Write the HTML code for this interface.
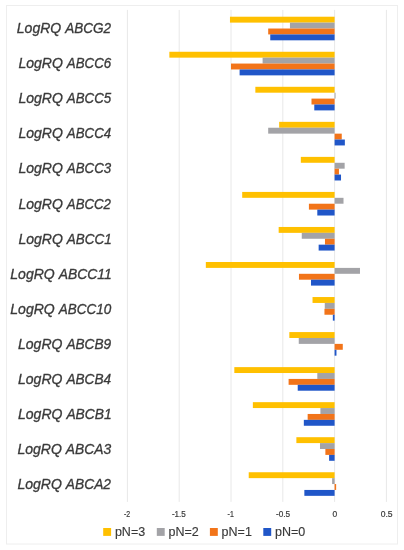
<!DOCTYPE html>
<html><head><meta charset="utf-8"><title>LogRQ chart</title>
<style>
html,body{margin:0;padding:0;background:#fff;}
body{width:404px;height:550px;overflow:hidden;}
svg{display:block;}
text{font-family:"Liberation Sans",sans-serif;}
.cat{font-style:italic;font-size:15.4px;fill:#383838;stroke:#404040;stroke-width:0.35px;}
.tick{font-size:8.4px;fill:#383838;stroke:#404040;stroke-width:0.2px;}
.leg{font-size:12.6px;fill:#383838;stroke:#404040;stroke-width:0.15px;}
</style></head><body>
<svg width="404" height="550" viewBox="0 0 404 550">
<rect x="0" y="0" width="404" height="550" fill="#fff"/>
<rect x="6.5" y="5.5" width="391" height="538.5" fill="#fff" stroke="#EEEEEE" stroke-width="1"/>
<line x1="127.40" y1="9.90" x2="127.40" y2="501.90" stroke="#E8E8E8" stroke-width="1"/>
<line x1="179.20" y1="9.90" x2="179.20" y2="501.90" stroke="#E8E8E8" stroke-width="1"/>
<line x1="231.00" y1="9.90" x2="231.00" y2="501.90" stroke="#E8E8E8" stroke-width="1"/>
<line x1="282.80" y1="9.90" x2="282.80" y2="501.90" stroke="#E8E8E8" stroke-width="1"/>
<line x1="334.60" y1="9.90" x2="334.60" y2="501.90" stroke="#E8E8E8" stroke-width="1"/>
<line x1="386.40" y1="9.90" x2="386.40" y2="501.90" stroke="#E8E8E8" stroke-width="1"/>
<rect x="229.96" y="16.72" width="104.64" height="5.90" fill="#FFC000"/>
<rect x="289.95" y="22.62" width="44.65" height="5.90" fill="#A3A3A7"/>
<rect x="268.19" y="28.52" width="66.41" height="5.90" fill="#F27419"/>
<rect x="270.26" y="34.42" width="64.34" height="5.90" fill="#2056C8"/>
<rect x="169.36" y="51.76" width="165.24" height="5.90" fill="#FFC000"/>
<rect x="262.60" y="57.66" width="72.00" height="5.90" fill="#A3A3A7"/>
<rect x="231.00" y="63.56" width="103.60" height="5.90" fill="#F27419"/>
<rect x="239.60" y="69.46" width="95.00" height="5.90" fill="#2056C8"/>
<rect x="255.35" y="86.80" width="79.25" height="5.90" fill="#FFC000"/>
<rect x="334.60" y="92.70" width="0.93" height="5.90" fill="#A3A3A7"/>
<rect x="311.50" y="98.60" width="23.10" height="5.90" fill="#F27419"/>
<rect x="314.29" y="104.50" width="20.31" height="5.90" fill="#2056C8"/>
<rect x="279.17" y="121.84" width="55.43" height="5.90" fill="#FFC000"/>
<rect x="268.19" y="127.74" width="66.41" height="5.90" fill="#A3A3A7"/>
<rect x="334.60" y="133.64" width="7.15" height="5.90" fill="#F27419"/>
<rect x="334.60" y="139.54" width="10.26" height="5.90" fill="#2056C8"/>
<rect x="300.83" y="156.88" width="33.77" height="5.90" fill="#FFC000"/>
<rect x="334.60" y="162.78" width="10.05" height="5.90" fill="#A3A3A7"/>
<rect x="334.60" y="168.68" width="4.35" height="5.90" fill="#F27419"/>
<rect x="334.60" y="174.58" width="6.42" height="5.90" fill="#2056C8"/>
<rect x="242.19" y="191.92" width="92.41" height="5.90" fill="#FFC000"/>
<rect x="334.60" y="197.82" width="8.91" height="5.90" fill="#A3A3A7"/>
<rect x="308.91" y="203.72" width="25.69" height="5.90" fill="#F27419"/>
<rect x="317.30" y="209.62" width="17.30" height="5.90" fill="#2056C8"/>
<rect x="278.66" y="226.96" width="55.94" height="5.90" fill="#FFC000"/>
<rect x="301.76" y="232.86" width="32.84" height="5.90" fill="#A3A3A7"/>
<rect x="324.97" y="238.76" width="9.63" height="5.90" fill="#F27419"/>
<rect x="318.65" y="244.66" width="15.95" height="5.90" fill="#2056C8"/>
<rect x="205.83" y="262.00" width="128.77" height="5.90" fill="#FFC000"/>
<rect x="334.60" y="267.90" width="25.38" height="5.90" fill="#A3A3A7"/>
<rect x="298.96" y="273.80" width="35.64" height="5.90" fill="#F27419"/>
<rect x="310.98" y="279.70" width="23.62" height="5.90" fill="#2056C8"/>
<rect x="312.53" y="297.04" width="22.07" height="5.90" fill="#FFC000"/>
<rect x="324.76" y="302.94" width="9.84" height="5.90" fill="#A3A3A7"/>
<rect x="324.45" y="308.84" width="10.15" height="5.90" fill="#F27419"/>
<rect x="332.84" y="314.74" width="1.76" height="5.90" fill="#2056C8"/>
<rect x="289.33" y="332.08" width="45.27" height="5.90" fill="#FFC000"/>
<rect x="298.75" y="337.98" width="35.85" height="5.90" fill="#A3A3A7"/>
<rect x="334.60" y="343.88" width="8.18" height="5.90" fill="#F27419"/>
<rect x="334.60" y="349.78" width="1.86" height="5.90" fill="#2056C8"/>
<rect x="234.32" y="367.12" width="100.28" height="5.90" fill="#FFC000"/>
<rect x="317.30" y="373.02" width="17.30" height="5.90" fill="#A3A3A7"/>
<rect x="288.60" y="378.92" width="46.00" height="5.90" fill="#F27419"/>
<rect x="297.72" y="384.82" width="36.88" height="5.90" fill="#2056C8"/>
<rect x="252.86" y="402.16" width="81.74" height="5.90" fill="#FFC000"/>
<rect x="320.41" y="408.06" width="14.19" height="5.90" fill="#A3A3A7"/>
<rect x="307.66" y="413.96" width="26.94" height="5.90" fill="#F27419"/>
<rect x="303.83" y="419.86" width="30.77" height="5.90" fill="#2056C8"/>
<rect x="296.37" y="437.20" width="38.23" height="5.90" fill="#FFC000"/>
<rect x="319.99" y="443.10" width="14.61" height="5.90" fill="#A3A3A7"/>
<rect x="325.38" y="449.00" width="9.22" height="5.90" fill="#F27419"/>
<rect x="329.11" y="454.90" width="5.49" height="5.90" fill="#2056C8"/>
<rect x="248.72" y="472.24" width="85.88" height="5.90" fill="#FFC000"/>
<rect x="332.11" y="478.14" width="2.49" height="5.90" fill="#A3A3A7"/>
<rect x="334.60" y="484.04" width="1.55" height="5.90" fill="#F27419"/>
<rect x="304.35" y="489.94" width="30.25" height="5.90" fill="#2056C8"/>
<text class="cat" y="33.20"><tspan x="16.80" textLength="44.5" lengthAdjust="spacingAndGlyphs">LogRQ</tspan> <tspan x="65.20" textLength="45.80" lengthAdjust="spacingAndGlyphs">ABCG2</tspan></text>
<text class="cat" y="68.27"><tspan x="18.40" textLength="44.5" lengthAdjust="spacingAndGlyphs">LogRQ</tspan> <tspan x="66.80" textLength="44.40" lengthAdjust="spacingAndGlyphs">ABCC6</tspan></text>
<text class="cat" y="103.34"><tspan x="18.40" textLength="44.5" lengthAdjust="spacingAndGlyphs">LogRQ</tspan> <tspan x="66.80" textLength="44.40" lengthAdjust="spacingAndGlyphs">ABCC5</tspan></text>
<text class="cat" y="138.41"><tspan x="18.40" textLength="44.5" lengthAdjust="spacingAndGlyphs">LogRQ</tspan> <tspan x="66.80" textLength="44.40" lengthAdjust="spacingAndGlyphs">ABCC4</tspan></text>
<text class="cat" y="173.48"><tspan x="18.40" textLength="44.5" lengthAdjust="spacingAndGlyphs">LogRQ</tspan> <tspan x="66.80" textLength="44.40" lengthAdjust="spacingAndGlyphs">ABCC3</tspan></text>
<text class="cat" y="208.55"><tspan x="18.40" textLength="44.5" lengthAdjust="spacingAndGlyphs">LogRQ</tspan> <tspan x="66.80" textLength="44.20" lengthAdjust="spacingAndGlyphs">ABCC2</tspan></text>
<text class="cat" y="243.62"><tspan x="18.40" textLength="44.5" lengthAdjust="spacingAndGlyphs">LogRQ</tspan> <tspan x="66.80" textLength="45.00" lengthAdjust="spacingAndGlyphs">ABCC1</tspan></text>
<text class="cat" y="278.69"><tspan x="10.30" textLength="44.5" lengthAdjust="spacingAndGlyphs">LogRQ</tspan> <tspan x="58.70" textLength="53.10" lengthAdjust="spacingAndGlyphs">ABCC11</tspan></text>
<text class="cat" y="313.76"><tspan x="10.30" textLength="44.5" lengthAdjust="spacingAndGlyphs">LogRQ</tspan> <tspan x="58.70" textLength="52.50" lengthAdjust="spacingAndGlyphs">ABCC10</tspan></text>
<text class="cat" y="348.83"><tspan x="18.00" textLength="44.5" lengthAdjust="spacingAndGlyphs">LogRQ</tspan> <tspan x="66.40" textLength="44.80" lengthAdjust="spacingAndGlyphs">ABCB9</tspan></text>
<text class="cat" y="383.90"><tspan x="18.00" textLength="44.5" lengthAdjust="spacingAndGlyphs">LogRQ</tspan> <tspan x="66.40" textLength="44.80" lengthAdjust="spacingAndGlyphs">ABCB4</tspan></text>
<text class="cat" y="418.97"><tspan x="18.00" textLength="44.5" lengthAdjust="spacingAndGlyphs">LogRQ</tspan> <tspan x="66.40" textLength="45.40" lengthAdjust="spacingAndGlyphs">ABCB1</tspan></text>
<text class="cat" y="454.04"><tspan x="17.40" textLength="44.5" lengthAdjust="spacingAndGlyphs">LogRQ</tspan> <tspan x="65.80" textLength="45.40" lengthAdjust="spacingAndGlyphs">ABCA3</tspan></text>
<text class="cat" y="489.11"><tspan x="17.40" textLength="44.5" lengthAdjust="spacingAndGlyphs">LogRQ</tspan> <tspan x="65.80" textLength="45.20" lengthAdjust="spacingAndGlyphs">ABCA2</tspan></text>
<text class="tick" x="124.00" y="516.80" textLength="6.20" lengthAdjust="spacingAndGlyphs">-2</text>
<text class="tick" x="171.95" y="516.80" textLength="13.90" lengthAdjust="spacingAndGlyphs">-1.5</text>
<text class="tick" x="227.60" y="516.80" textLength="6.20" lengthAdjust="spacingAndGlyphs">-1</text>
<text class="tick" x="275.90" y="516.80" textLength="14.20" lengthAdjust="spacingAndGlyphs">-0.5</text>
<text class="tick" x="332.45" y="516.80" textLength="4.70" lengthAdjust="spacingAndGlyphs">0</text>
<text class="tick" x="380.65" y="516.80" textLength="11.90" lengthAdjust="spacingAndGlyphs">0.5</text>
<rect x="103.20" y="528.0" width="7.9" height="7.9" fill="#FFC000"/>
<text class="leg" x="114.90" y="536.2" textLength="30.3" lengthAdjust="spacingAndGlyphs">pN=3</text>
<rect x="156.80" y="528.0" width="7.9" height="7.9" fill="#A3A3A7"/>
<text class="leg" x="168.50" y="536.2" textLength="30.3" lengthAdjust="spacingAndGlyphs">pN=2</text>
<rect x="209.90" y="528.0" width="7.9" height="7.9" fill="#F27419"/>
<text class="leg" x="221.60" y="536.2" textLength="30.3" lengthAdjust="spacingAndGlyphs">pN=1</text>
<rect x="263.30" y="528.0" width="7.9" height="7.9" fill="#2056C8"/>
<text class="leg" x="275.00" y="536.2" textLength="30.3" lengthAdjust="spacingAndGlyphs">pN=0</text>
</svg>
</body></html>
